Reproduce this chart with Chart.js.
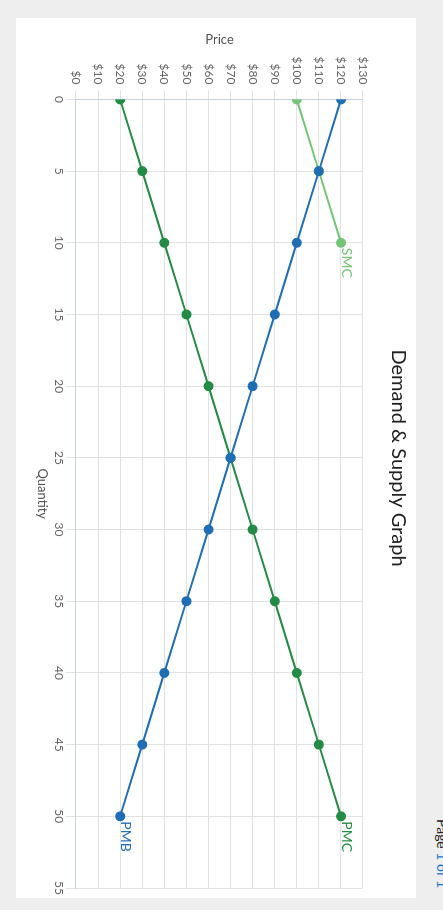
<!DOCTYPE html>
<html lang="en">
<head>
    <meta charset="UTF-8" />
    <title>Demand & Supply Graph</title>
    <script src="https://cdn.jsdelivr.net/npm/chart.js"></script>
    <style>
        html, body {
            margin: 0;
            padding: 0;
            width: 443px;
            height: 910px;
            overflow: hidden;
            background: #eeeeee;
            font-family: Lato, sans-serif;
        }
        /* the whole sheet is turned a quarter to the right */
        .sheet {
            position: absolute;
            left: 416px;
            top: 18px;
            width: 880px;
            height: 400px;
            background: #ffffff;
            transform-origin: 0 0;
            transform: rotate(90deg);
        }
        .pager {
            position: absolute;
            left: 451px;
            top: 819px;
            white-space: nowrap;
            font-size: 14px;
            color: #222;
            transform-origin: 0 0;
            transform: rotate(90deg);
        }
        .pager span {
            color: #1a73c8;
        }
    </style>
</head>
<body>
<div class="sheet">
    <canvas id="demandSupplyChart" width="880" height="400"></canvas>
</div>
<div class="pager">Page <span>1 of 1</span></div>

<script>
    // Chart data
    const quantities = [0, 5, 10, 15, 20, 25, 30, 35, 40, 45, 50];
    const pmbPrices = [120, 110, 100, 90, 80, 70, 60, 50, 40, 30, 20];
    const pmcPrices = [20, 30, 40, 50, 60, 70, 80, 90, 100, 110, 120];
    const smcQuantities = [0, 5, 10];
    const smcPrices = [100, 110, 120];

    const toPoints = (xs, ys) => xs.map((x, i) => ({ x: x, y: ys[i] }));

    // writes each series name next to its last point
    const endLabels = {
        id: "endLabels",
        afterDatasetsDraw(chart) {
            const ctx = chart.ctx;
            chart.data.datasets.forEach((ds, i) => {
                const meta = chart.getDatasetMeta(i);
                const last = meta.data[meta.data.length - 1];
                ctx.save();
                ctx.font = "14px Lato";
                ctx.fillStyle = ds.borderColor;
                ctx.textBaseline = "alphabetic";
                ctx.fillText(ds.label, last.x + 5, last.y - 1);
                ctx.restore();
            });
        },
    };

    Chart.defaults.font.family = "Lato";

    const ctx = document.getElementById("demandSupplyChart").getContext("2d");
    new Chart(ctx, {
        type: "line",
        data: {
            datasets: [
                {
                    label: "PMB",
                    data: toPoints(quantities, pmbPrices),
                    borderColor: "#1f6eb4",
                    backgroundColor: "#1f6eb4",
                    borderWidth: 2,
                    pointRadius: 4,
                    tension: 0,
                },
                {
                    label: "PMC",
                    data: toPoints(quantities, pmcPrices),
                    borderColor: "#238b45",
                    backgroundColor: "#238b45",
                    borderWidth: 2,
                    pointRadius: 4,
                    tension: 0,
                },
                {
                    label: "SMC",
                    data: toPoints(smcQuantities, smcPrices),
                    borderColor: "#74c476",
                    backgroundColor: "#74c476",
                    borderWidth: 2,
                    pointRadius: 4,
                    tension: 0,
                },
            ],
        },
        options: {
            responsive: false,
            animation: false,
            layout: {
                padding: { left: 10, right: 10, top: 0, bottom: 14 },
            },
            plugins: {
                legend: { display: false },
                tooltip: { enabled: false },
                title: {
                    display: true,
                    text: "Demand & Supply Graph",
                    color: "#222",
                    font: { size: 20, weight: "normal" },
                    padding: { top: 6, bottom: 23 },
                },
            },
            scales: {
                x: {
                    type: "linear",
                    min: 0,
                    max: 55,
                    ticks: { stepSize: 5, color: "#666", font: { size: 12 }, padding: 0 },
                    grid: { color: "#e2e2e2", tickLength: 10 },
                    border: { color: "#c5d2e6" },
                    title: {
                        display: true,
                        text: "Quantity",
                        color: "#555",
                        font: { size: 13 },
                        padding: { top: 2, bottom: 4 },
                    },
                },
                y: {
                    min: 0,
                    max: 130,
                    ticks: {
                        stepSize: 10,
                        color: "#666",
                        font: { size: 12 },
                        padding: 6,
                        callback: (v) => "$" + v,
                    },
                    grid: { color: "#e2e2e2", tickLength: 9 },
                    border: { color: "#c5d2e6" },
                    title: {
                        display: true,
                        text: "Price",
                        color: "#555",
                        font: { size: 13 },
                        padding: { top: 4, bottom: 3 },
                    },
                },
            },
        },
        plugins: [endLabels],
    });
</script>
</body>
</html>
